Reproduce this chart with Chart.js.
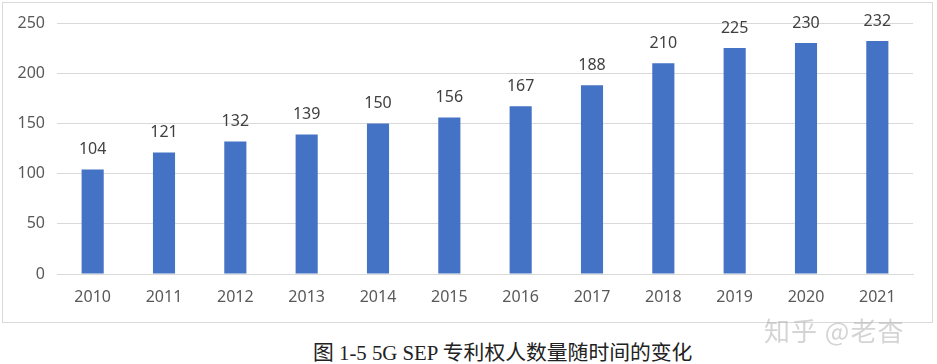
<!DOCTYPE html>
<html>
<head>
<meta charset="utf-8">
<script src="https://cdn.jsdelivr.net/npm/chart.js@4"></script>
<style>
  body { margin: 0; background: #fff; }
  #wrap { position: relative; width: 937px; height: 364px; overflow: hidden; }
  #myChart { position: absolute; left: 0; top: 0; }
  #caption { position: absolute; left: 313px; top: 336px; font: 20.8px "Liberation Serif", "Noto Sans CJK SC", serif; color: #222; white-space: nowrap; }
  #mark { position: absolute; left: 764px; top: 311px; font: 26px "Noto Sans CJK SC", sans-serif; color: rgba(170,170,170,0.5); white-space: nowrap; letter-spacing: 1px; }
</style>
</head>
<body>
<div id="wrap">
  <canvas id="myChart" width="937" height="330"></canvas>
  <div id="caption">图 1-5 5G SEP 专利权人数量随时间的变化</div>
  <div id="mark">知乎 @老杳</div>
</div>
<script>
const anos = ['2010','2011','2012','2013','2014','2015','2016','2017','2018','2019','2020','2021']
const valores = [104,121,132,139,150,156,167,188,210,225,230,232]
const ticksY = [0,50,100,150,200,250]
const ctx = document.getElementById('myChart')

// moldura e rótulos das barras
const extras = {
  id: 'extras',
  beforeDraw(chart) {
    const c = chart.ctx
    c.save()
    c.strokeStyle = '#d9d9d9'
    c.lineWidth = 1
    c.strokeRect(2.5, 2.5, 930, 320)
    c.restore()
  },
  afterDatasetsDraw(chart) {
    const c = chart.ctx
    c.save()
    c.font = '16px "Noto Sans", sans-serif'
    c.fillStyle = '#404040'
    c.textAlign = 'center'
    c.textBaseline = 'bottom'
    chart.getDatasetMeta(0).data.forEach((bar, i) => {
      c.fillText(valores[i], bar.x, bar.y - 12)
    })
    c.restore()
  }
}

const grafico = new Chart(ctx, {
  type: 'bar',
  data: {
    labels: anos,
    datasets: [{
      data: valores,
      backgroundColor: '#4472C4',
      barPercentage: 0.31,
      categoryPercentage: 1
    }]
  },
  options: {
    responsive: false,
    animation: false,
    layout: { padding: { left: 0, right: 24, top: 23, bottom: 0 } },
    plugins: { legend: { display: false }, tooltip: { enabled: false } },
    scales: {
      x: {
        grid: { display: false, drawTicks: false },
        border: { color: '#d9d9d9' },
        ticks: { color: '#595959', font: { family: 'Noto Sans', size: 16 }, padding: 14, maxRotation: 0 },
        afterFit: (s) => { s.height = 56 }
      },
      y: {
        min: 0, max: 250,
        afterBuildTicks: (s) => { s.ticks = ticksY.map(v => ({ value: v })) },
        grid: { color: '#d9d9d9', drawTicks: false },
        border: { display: false },
        ticks: { color: '#595959', font: { family: 'Noto Sans', size: 16 }, padding: 12 },
        afterFit: (s) => { s.width = 57 }
      }
    }
  },
  plugins: [extras]
})
</script>
</body>
</html>
